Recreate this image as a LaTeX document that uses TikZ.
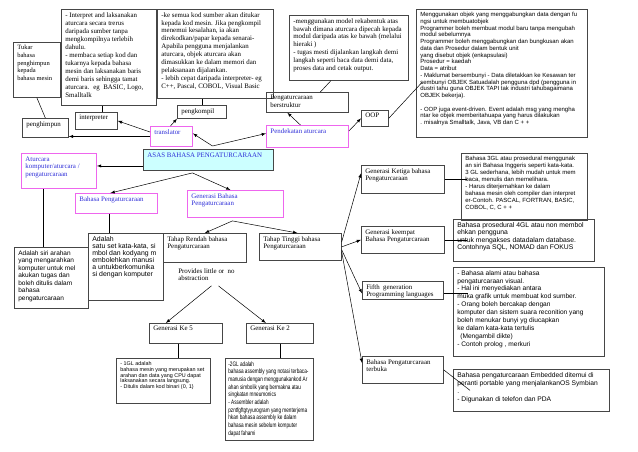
\documentclass[tikz,border=0pt]{standalone}
\usepackage{fontspec}
\usepackage{tikz}
\usetikzlibrary{arrows}
\newfontfamily\boxserif{Liberation Serif}
\newfontfamily\boxsans{Liberation Sans}
\newfontfamily\boxnarrow[FakeStretch=0.72]{Liberation Sans}
\definecolor{pinkline}{RGB}{238,102,238}
\definecolor{labelblue}{RGB}{45,45,215}
\definecolor{asasfill}{RGB}{204,255,255}
\definecolor{boxline}{RGB}{70,70,70}
\newcommand{\boxtxt}[3]{\parbox[t][#2][t]{#1}{\raggedright #3}}
\newcommand{\fs}[2]{\fontsize{#1}{#2}\selectfont}

\begin{document}
\begin{tikzpicture}[x=1pt,y=-1pt,>=latex,
    box/.style={draw=boxline, line width=0.7pt, anchor=north west, inner xsep=4pt, inner ysep=3pt, font=\boxserif\fs{6.9}{7.5}},
    pinkbox/.style={box, draw=pinkline, line width=0.9pt, text=labelblue},
    every path/.style={line width=0.5pt}]
    \useasboundingbox (0,0) rectangle (638,451);

    \node[box, font=\boxserif\fs{6.5}{7.7}] (tukar) at (13,42) {\boxtxt{39pt}{49pt}{Tukar\\bahasa\\penghimpun\\kepada\\bahasa mesin}};
    \node[box, font=\boxserif\fs{6.9}{8}] (interpD) at (61,9) {\boxtxt{87pt}{90pt}{- Interpret and laksanakan\\aturcara secara trerus\\daripada sumber tanpa\\mengkompilnya terlebih\\dahulu.\\- membaca setiap kod dan\\tukarnya kepada bahasa\\mesin dan laksanakan baris\\demi baris sehingga tamat\\aturcara.~ eg~ BASIC, Logo,\\Smalltalk}};
    \node[box, font=\boxserif\fs{6.9}{7.9}] (kompilD) at (157,9) {\boxtxt{108pt}{83pt}{-ke semua kod sumber akan ditukar\\kepada kod mesin. Jika pengkompil\\menemui kesalahan, ia akan\\direkodkan/papar kepada senarai-\\Apabila pengguna menjalankan\\aturcara, objek aturcara akan\\dimasukkan ke dalam memori dan\\pelaksanaan dijalankan.\\- lebih cepat daripada interpreter- eg\\C++, Pascal, COBOL, Visual Basic}};
    \node[box, font=\boxserif\fs{6.9}{7.9}] (strukD) at (289,15) {\boxtxt{111pt}{59pt}{-menggunakan model rekabentuk atas\\bawah dimana aturcara dipecah kepada\\modul daripada atas ke bawah (melalui\\hieraki )\\- tugas mesti dijalankan langkah demi\\langkah seperti baca data demi data,\\proses data and cetak output.}};
    \node[box] (struk) at (266,92) {\boxtxt{74pt}{14pt}{Pengaturcaraan\\berstruktur}};
    \node[box] (oop) at (361,110) {\boxtxt{19pt}{10pt}{OOP}};
    \node[box, font=\boxsans\fs{6}{6.75}] (oopD) at (416,9) {\boxtxt{163pt}{122pt}{Menggunakan objek yang menggabungkan data dengan fu\\ngsi untuk membuatobjek\\Programmer boleh membuat modul baru tanpa mengubah\\modul sebelumnya\\Programmer boleh menggabungkan dan bungkusan akan\\data dan Prosedur dalam bentuk unit\\yang disebut objek (enkapsulasi)\\* Prosedur = kaedah\\* Data = atribut\\- Maklumat bersembunyi - Data diletakkan ke Kesawan ter\\sembunyi OBJEK Satuadalah pengguna dpd (pengguna in\\dustri tahu guna OBJEK TAPI tak industri tahubagaimana\\OBJEK bekerja).\\[6.75pt]- OOP juga event-driven. Event adalah msg yang mengha\\ntar ke objek memberitahuapa yang harus dilakukan\\. misalnya Smalltalk, Java, VB dan C + +}};

    \node[box] (penghimpun) at (22,118) {\boxtxt{38pt}{13pt}{penghimpun}};
    \node[box] (interp) at (75,112) {\boxtxt{34pt}{11pt}{interpreter}};
    \node[box] (kompil) at (177,105) {\boxtxt{41pt}{7pt}{pengkompil}};
    \node[pinkbox] (trans) at (150,126) {\boxtxt{34pt}{14pt}{translator}};
    \node[pinkbox] (pend) at (266,125) {\boxtxt{74pt}{16pt}{Pendekatan aturcara}};
    \node[pinkbox, draw=boxline, fill=asasfill] (asas) at (143,149) {\boxtxt{122pt}{15pt}{ASAS BAHASA PENGATURCARAAN}};
    \node[pinkbox] (atur) at (21,153) {\boxtxt{67pt}{29pt}{Aturcara\\komputer/aturcara /\\pengaturcaraan}};
    \node[pinkbox] (bahasa) at (75,193) {\boxtxt{74pt}{14pt}{Bahasa Pengaturcaraan}};
    \node[pinkbox] (gen) at (187,190) {\boxtxt{88pt}{21pt}{Generasi Bahasa\\Pengaturcaraan}};

    \node[box, font=\boxsans\fs{6.9}{7}] (satu) at (88,233) {\boxtxt{67pt}{61pt}{Adalah\\satu set kata-kata, si\\mbol dan kodyang m\\embolehkan manusi\\a untukberkomunika\\si dengan komputer}};
    \node[box, font=\boxsans\fs{6.5}{7.5}] (siri) at (14,247) {\boxtxt{66pt}{55pt}{Adalah siri arahan\\yang mengarahkan\\komputer untuk mel\\akukan tugas dan\\boleh ditulis dalam\\bahasa\\pengaturcaraan}};
    \node[box] (rendah) at (163,233) {\boxtxt{75pt}{23pt}{Tahap Rendah bahasa\\Pengaturcaraan}};
    \node[box] (tinggi) at (259,233) {\boxtxt{74pt}{21pt}{Tahap Tinggi bahasa\\Pengaturcaraan}};
    \node[anchor=north west, inner sep=2pt, align=left, font=\boxserif\fs{6.9}{7.5}] (prov) at (176,266) {Provides little or~~no\\abstraction};
    \node[box] (ke5) at (149,323) {\boxtxt{65pt}{14pt}{Generasi Ke 5}};
    \node[box] (ke2) at (246,323) {\boxtxt{59pt}{14pt}{Generasi Ke 2}};
    \node[box, font=\boxsans\fs{5.4}{5.9}] (gl1) at (116,358) {\boxtxt{86pt}{39pt}{- 1GL adalah\\bahasa mesin yang merupakan set\\arahan dan data yang CPU dapat\\laksanakan secara langsung.\\- Ditulis dalam kod binari (0, 1)}};
    \node[box, inner xsep=3pt, font=\boxnarrow\fs{6.5}{7.7}] (gl2) at (225,358) {\boxtxt{82pt}{76pt}{-2GL adalah\\bahasa assembly yang notasi terbaca-\\manusia dengan menggunakankod Ar\\ahan simbolik yang bermakna atau\\singkatan mneumonics\\- Assembler adalah\\pzntfgftgtyyurogram yang menterjema\\hkan bahasa assembly ke dalam\\bahasa mesin sebelum komputer\\dapat fahami}};

    \node[box] (ketiga) at (361,165) {\boxtxt{75pt}{22pt}{Generasi Ketiga bahasa\\Pengaturcaraan}};
    \node[box, font=\boxsans\fs{6}{7}] (gl3) at (461,153) {\boxtxt{118pt}{61pt}{Bahasa 3GL atau prosedural menggunak\\an siri Bahasa Inggeris seperti kata-kata.\\3 GL sederhana, lebih mudah untuk mem\\baca, menulis dan memelihara.\\- Harus diterjemahkan ke dalam\\bahasa mesin oleh compiler dan interpret\\er-Contoh. PASCAL, FORTRAN, BASIC,\\COBOL, C, C + +}};
    \node[box] (keempat) at (361,226) {\boxtxt{75pt}{21pt}{Generasi keempat\\Bahasa Pengaturcaraan}};
    \node[box, font=\boxsans\fs{6.8}{7.5}] (gl4) at (453,219) {\boxtxt{133pt}{36pt}{Bahasa prosedural 4GL atau non membol\\ehkan pengguna\\untuk mengakses datadalam database.\\Contohnya SQL, NOMAD dan FOKUS}};
    \node[box] (fifth) at (362,281) {\boxtxt{73pt}{12pt}{Fifth~~generation\\Programming languages}};
    \node[box, font=\boxsans\fs{6.6}{7.9}] (gl5) at (453,267) {\boxtxt{143pt}{83pt}{- Bahasa alami atau bahasa\\pengaturcaraan visual.\\- Hal ini menyediakan antara\\muka grafik untuk membuat kod sumber.\\- Orang boleh bercakap dengan\\komputer dan sistem suara reconition yang\\boleh menukar bunyi yg diucapkan\\ke dalam kata-kata tertulis\\\hspace*{3pt}(Mengambil dikte)\\- Contoh prolog , merkuri}};
    \node[box] (terbuka) at (362,356) {\boxtxt{73pt}{21pt}{Bahasa Pengaturcaraan\\terbuka}};
    \node[box, font=\boxsans\fs{6.7}{8}] (emb) at (453,369) {\boxtxt{148pt}{36pt}{Bahasa pengaturcaraan Embedded ditemui di\\peranti portable yang menjalankanOS Symbian\\.\\- Digunakan di telefon dan PDA}};

    \draw (tukar.south) -- (penghimpun.north);
    \draw ([xshift=6pt]interp.north) -- ([xshift=6pt]interp.north |- interpD.south);
    \draw (kompil.north) -- (kompil.north |- kompilD.south);
    \draw ([xshift=-18pt]strukD.south) -- ([xshift=13pt]struk.north);
    \draw (oop.east) -- ([xshift=6pt,yshift=-9pt]oopD.west);
    \draw [->] ([yshift=-6pt]trans.north west) -- (interp.east);
    \draw [->] (trans.west) -- (trans.west -| penghimpun.east);
    \draw [->] ([xshift=-1pt]trans.north) -- (kompil.south west);
    \coordinate (asasfork) at ([xshift=4pt,yshift=3pt]asas.north);
    \draw [->] (asasfork) -- ([yshift=3pt]trans.east);
    \draw [->] (asasfork) -- ([yshift=3pt]pend.west);
    \draw [->] ([xshift=-7pt]pend.north) -- ([xshift=-20pt]struk.south);
    \draw [->] ([yshift=-6pt]pend.north east) -- (oop.west);

    \draw [->] ([yshift=-6pt]asas.west) -- ([yshift=-6pt]asas.west -| atur.east);
    \coordinate (asasfork2) at ([xshift=-16pt,yshift=-2pt]asas.south);
    \draw [->] (asasfork2) -- ([xshift=-6pt]bahasa.north);
    \draw [->] (asasfork2) -- ([xshift=-5pt]gen.north);
    \draw ([xshift=-16pt]atur.south) -- ([xshift=-16pt]atur.south |- siri.north);
    \draw ([xshift=-7pt]bahasa.south) -- ([xshift=-7pt]bahasa.south |- satu.north);
    \coordinate (genfork) at ([xshift=-3pt,yshift=-3pt]gen.south);
    \draw [->] (genfork) -- (rendah.north);
    \draw [->] (genfork) -- ([xshift=-3pt]tinggi.north);
    \draw [->] ([xshift=5pt,yshift=-3pt]prov.south) -- ([xshift=-20pt]ke5.north);
    \draw [->] ([xshift=12pt,yshift=-3pt]prov.south) -- ([xshift=-14pt]ke2.north);
    \draw ([xshift=-8pt]ke5.south) -- ([xshift=-8pt]ke5.south |- gl1.north);
    \draw (ke2.south) -- (ke2.south |- gl2.north);

    \draw [->] ([yshift=5pt]tinggi.east) -- ([yshift=6pt]ketiga.west);
    \draw [->] (tinggi.east) -- (keempat.west);
    \draw [->] ([yshift=-3pt]tinggi.east) -- ([yshift=-3pt]fifth.west);
    \draw [->] ([yshift=-5pt]tinggi.east) -- ([yshift=7pt]terbuka.west);
    \draw (ketiga.east) -- ([xshift=6pt]ketiga.east -| gl3.west);
    \draw (keempat.east) -- ([xshift=14pt]keempat.east -| gl4.west);
    \draw ([yshift=-3pt]fifth.east) -- ([xshift=15pt,yshift=-3pt]fifth.east -| gl5.west);
    \draw (terbuka.east) -- ([xshift=17pt]emb.west);
\end{tikzpicture}
\end{document}
